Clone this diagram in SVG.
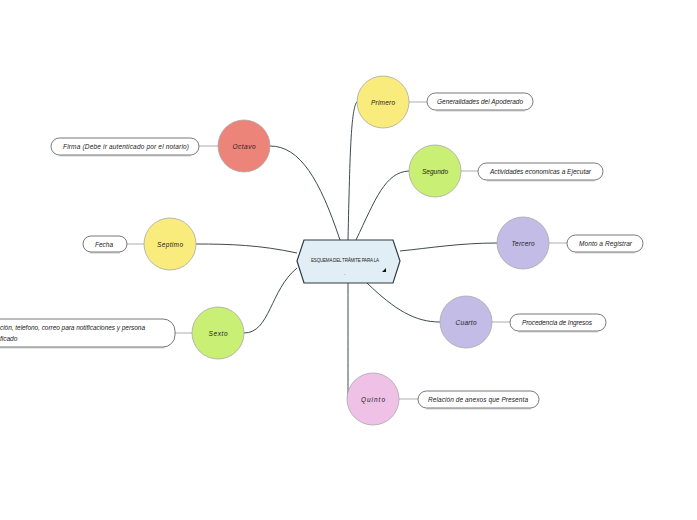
<svg xmlns="http://www.w3.org/2000/svg" width="697" height="520" viewBox="0 0 697 520">
<style>
.c{stroke:#a8a8a8;stroke-width:0.8}
.lbl{font-family:"Liberation Sans",Arial,sans-serif;font-style:italic;font-size:6.5px;fill:#222;text-anchor:middle}
.bt{font-family:"Liberation Sans",Arial,sans-serif;font-style:italic;font-size:6.5px;fill:#222}
.box{fill:#fff;stroke:#555;stroke-width:0.8}
.sh{fill:none;stroke:#cfcfcf;stroke-width:1.2}
.main{fill:none;stroke:#3e4a4f;stroke-width:1}
.sub{fill:none;stroke:#c8c8c8;stroke-width:1.5}
</style>
<rect width="697" height="520" fill="#fff"/>
<g id="connectors">
<path class="main" d="M348,240 C350,150 351,104 358,101"/>
<path class="main" d="M356,240 C375,200 385,172 409,171"/>
<path class="main" d="M400,251 C430,248 460,243 497,243"/>
<path class="main" d="M367,283 C395,310 415,322 440,322"/>
<path class="main" d="M348,283 C348,350 348,390 348,399"/>
<path class="main" d="M297,268 C270,290 270,333 244,333"/>
<path class="main" d="M297,253 C260,245 230,244 196,244"/>
<path class="main" d="M340,240 C320,180 300,146 270,146"/>
<line class="sub" x1="409" y1="102" x2="427" y2="102"/>
<line class="sub" x1="461" y1="171" x2="478" y2="171"/>
<line class="sub" x1="549" y1="243" x2="567" y2="243"/>
<line class="sub" x1="492" y1="322" x2="510" y2="322"/>
<line class="sub" x1="399" y1="399" x2="418" y2="399"/>
<line class="sub" x1="175" y1="333" x2="192" y2="333"/>
<line class="sub" x1="127" y1="244" x2="144" y2="244"/>
<line class="sub" x1="199" y1="146" x2="218" y2="146"/>
</g>
<g id="center">
<polygon points="297,261 304,240 393,240 400,261 393,283 304,283" fill="#e1eef5" stroke="#2e3b44" stroke-width="1.2"/>
<text x="311" y="262" font-family="Liberation Sans,Arial,sans-serif" font-size="4.5" fill="#222" textLength="68" lengthAdjust="spacing">ESQUEMA DEL TRÁMITE PARA LA</text>
<text x="344" y="275" font-family="Liberation Sans,Arial,sans-serif" font-size="5" fill="#222">.</text>
<polygon points="386,268 386,272 382,272" fill="#111"/>
</g>
<g id="primero">
<circle cx="383" cy="102" r="26" fill="#faec7c" class="c"/>
<text class="lbl" x="383" y="104.5" textLength="24" lengthAdjust="spacing">Primero</text>
<path class="sh" d="M436,111 H525"/>
<rect class="box" x="427" y="93" width="106" height="17" rx="8.5"/>
<text class="bt" x="437" y="104" textLength="86" lengthAdjust="spacing">Generalidades del Apoderado</text>
</g>
<g id="segundo">
<circle cx="435" cy="171" r="26" fill="#c9ef74" class="c"/>
<text class="lbl" x="435" y="173.5" textLength="26" lengthAdjust="spacing">Segundo</text>
<path class="sh" d="M487,181 H595"/>
<rect class="box" x="478" y="163" width="125" height="17" rx="8.5"/>
<text class="bt" x="490" y="174" textLength="101" lengthAdjust="spacing">Actividades economicas a Ejecutar</text>
</g>
<g id="tercero">
<circle cx="523" cy="243" r="26" fill="#c3bce6" class="c"/>
<text class="lbl" x="523" y="245.5" textLength="23" lengthAdjust="spacing">Tercero</text>
<path class="sh" d="M575,253 H635"/>
<rect class="box" x="567" y="235" width="76" height="17" rx="8.5"/>
<text class="bt" x="579" y="246" textLength="53" lengthAdjust="spacing">Monto a Registrar</text>
</g>
<g id="cuarto">
<circle cx="466" cy="322" r="26" fill="#c3bce6" class="c"/>
<text class="lbl" x="466" y="324.5" textLength="21" lengthAdjust="spacing">Cuarto</text>
<path class="sh" d="M518,332 H598"/>
<rect class="box" x="510" y="314" width="96" height="17" rx="8.5"/>
<text class="bt" x="522" y="325" textLength="70" lengthAdjust="spacing">Procedencia de Ingresos</text>
</g>
<g id="quinto">
<circle cx="373" cy="399" r="26" fill="#efc1e7" class="c"/>
<text class="lbl" x="373" y="401.5" textLength="24" lengthAdjust="spacing">Quinto</text>
<path class="sh" d="M426,409 H531"/>
<rect class="box" x="418" y="391" width="121" height="17" rx="8.5"/>
<text class="bt" x="428" y="402" textLength="100" lengthAdjust="spacing">Relación de anexos que Presenta</text>
</g>
<g id="sexto">
<circle cx="218" cy="333" r="26" fill="#c9ef74" class="c"/>
<text class="lbl" x="218" y="335.5" textLength="19" lengthAdjust="spacing">Sexto</text>
<path class="sh" d="M-10,348 H165"/>
<rect class="box" x="-30" y="319" width="205" height="28" rx="12"/>
<text class="bt" x="0" y="330" textLength="145" lengthAdjust="spacing">ción, telefono, correo para notificaciones y persona</text>
<text class="bt" x="0" y="341">ficado</text>
</g>
<g id="septimo">
<circle cx="170" cy="244" r="26" fill="#faec7c" class="c"/>
<text class="lbl" x="170" y="246.5" textLength="26" lengthAdjust="spacing">Septimo</text>
<path class="sh" d="M90,253 H120"/>
<rect class="box" x="83" y="236" width="44" height="16" rx="8"/>
<text class="bt" x="95" y="246.5" textLength="18" lengthAdjust="spacing">Fecha</text>
</g>
<g id="octavo">
<circle cx="244" cy="146" r="26" fill="#ec8479" class="c"/>
<text class="lbl" x="244" y="148.5" textLength="23" lengthAdjust="spacing">Octavo</text>
<path class="sh" d="M59,156 H191"/>
<rect class="box" x="51" y="138" width="148" height="17" rx="8.5"/>
<text class="bt" x="63" y="149" textLength="126" lengthAdjust="spacing">Firma (Debe ir autenticado por el notario)</text>
</g>
</svg>
